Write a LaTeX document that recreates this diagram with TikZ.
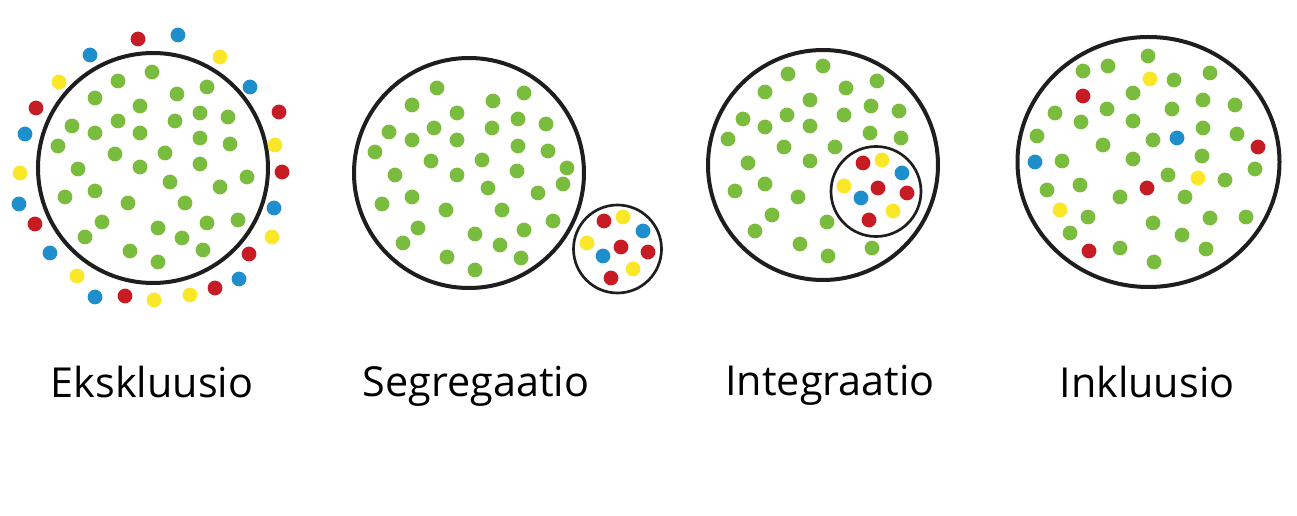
\documentclass[tikz,border=0pt]{standalone}
\usepackage{fontspec}
\setmainfont{Open Sans}
\definecolor{dgreen}{RGB}{122,188,62}
\definecolor{dred}{RGB}{200,28,36}
\definecolor{dblue}{RGB}{30,142,204}
\definecolor{dyellow}{RGB}{250,232,40}
\definecolor{ring}{RGB}{30,30,30}
\tikzset{
  bigring/.style={draw=ring, line width=3.0},
  smallring/.style={draw=ring, line width=2.0},
  label/.style={font=\fontsize{31}{36}\selectfont, text=black, anchor=base, inner sep=0pt},
}
\newcommand{\mydots}[2]{\foreach \px/\py in {#2} {\fill[#1] (\px,\py) circle[radius=7.4];}}
\begin{document}
\begin{tikzpicture}[x=0.75pt,y=-0.75pt]
\useasboundingbox (0,0) rectangle (1297,516);
\fill[white] (0,0) rectangle (1297,516);
% ---------- Ekskluusio
\draw[bigring] (153,168) circle[radius=115];
\mydots{dgreen}{152/72,118/81,207/87,177/94,95/98,140/106,200/113,228/117,72/126,118/121,175/121,95/133,140/133,200/138,230/144,58/146,115/154,165/153,200/164,78/169,140/167,247/177,170/182,220/187,65/197,95/191,128/203,185/203,102/222,158/228,207/223,238/220,85/237,182/238,130/251,203/250,158/262}
\mydots{dred}{138/39,36/108,279/112,282/172,35/224,249/254,215/288,125/296}
\mydots{dblue}{178/35,90/55,250/87,25/134,19/204,274/208,50/253,239/279,95/297}
\mydots{dyellow}{220/57,59/82,275/145,20/173,272/237,77/276,190/295,154/300}
% ---------- Segregaatio
\draw[bigring] (469,173) circle[radius=115];
\draw[smallring] (617.5,249) circle[radius=44];
\mydots{dgreen}{437/88,524/93,412/105,493/101,457/113,518/119,546/124,434/128,492/128,389/132,412/140,457/140,518/146,548/151,375/152,431/161,482/160,517/171,567/168,395/175,457/175,563/184,488/188,538/193,382/204,412/197,446/210,502/210,553/221,418/228,524/230,475/234,403/243,500/245,447/257,521/258,475/270}
\mydots{dred}{604/221,621/247,648/252,611/278}
\mydots{dyellow}{623/217,587/243,633/269}
\mydots{dblue}{643/231,603/256}
% ---------- Integraatio
\draw[bigring] (823,165) circle[radius=115];
\draw[smallring] (876,191.5) circle[radius=45];
\mydots{dgreen}{823/66,788/74,877/81,765/92,846/88,810/100,871/106,899/111,743/119,787/115,844/115,765/127,810/126,870/133,901/138,728/139,784/147,835/147,748/163,810/161,735/191,765/184,798/197,772/215,755/231,827/222,800/244,828/256,872/248}
\mydots{dred}{863/163,878/188,907/193,869/220}
\mydots{dyellow}{882/160,844/186,893/211}
\mydots{dblue}{902/173,861/198}
% ---------- Inkluusio
\draw[bigring] (1148.5,162) ellipse[x radius=131, y radius=125];
\mydots{dgreen}{1148/56,1083/71,1108/66,1174/80,1210/73,1133/93,1203/100,1235/105,1055/113,1107/109,1172/109,1081/122,1133/121,1203/128,1037/136,1237/134,1153/140,1103/145,1202/156,1062/161,1133/159,1255/169,1168/175,1225/180,1080/185,1047/190,1120/197,1185/197,1088/217,1153/223,1210/218,1246/217,1070/233,1182/235,1120/248,1206/249,1154/262}
\mydots{dred}{1083/96,1258/147,1147/188,1089/251}
\mydots{dblue}{1177/138,1035/162}
\mydots{dyellow}{1150/79,1198/178,1060/210}
% ---------- labels
\node[label] (l1) at (152,398) {Ekskluusio};
\node[label] (l2) at (476,397) {Segregaatio};
\node[label] (l3) at (830,396) {Integraatio};
\node[label] (l4) at (1147,398) {Inkluusio};
\end{tikzpicture}
\end{document}
